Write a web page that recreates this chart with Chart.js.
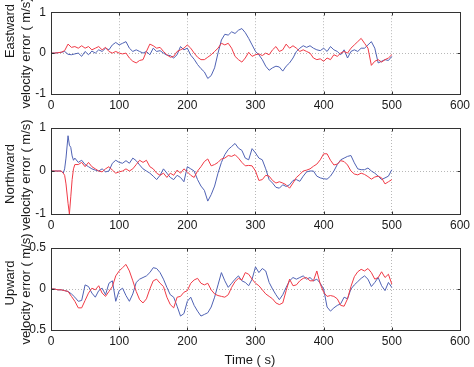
<!DOCTYPE html>
<html>
<head>
<meta charset="utf-8">
<title>velocity error</title>
<script src="https://cdn.jsdelivr.net/npm/chart.js@4.4.0/dist/chart.umd.min.js"></script>
<style>
  body { margin: 0; background: #fff; }
  #wrap { position: relative; width: 474px; height: 367px; }
  #wrap canvas { position: absolute; left: 0; top: 0; }
</style>
</head>
<body>
<div id="wrap">
  <canvas id="eastChart" width="474" height="367"></canvas>
  <canvas id="northChart" width="474" height="367"></canvas>
  <canvas id="upChart" width="474" height="367"></canvas>
</div>
<script>
// data (seconds / m/s)

const time = [
  0, 5, 10, 15, 20, 25, 30, 35, 40, 45,
  50, 55, 60, 65, 70, 75, 80, 85, 90, 95,
  100, 105, 110, 115, 120, 125, 130, 135, 140, 145,
  150, 155, 160, 165, 170, 175, 180, 185, 190, 195,
  200, 205, 210, 215, 220, 225, 230, 235, 240, 245,
  250, 255, 260, 265, 270, 275, 280, 285, 290, 295,
  300, 305, 310, 315, 320, 325, 330, 335, 340, 345,
  350, 355, 360, 365, 370, 375, 380, 385, 390, 395,
  400, 405, 410, 415, 420, 425, 430, 435, 440, 445,
  450, 455, 460, 465, 470, 475, 480, 485, 490, 495,
  500,
];

// northward panel has a few extra samples around the start-up spike
const northTime = [
  0, 5, 10, 15, 18, 20, 22, 25, 27, 29, 31, 33, 35,
  40, 45, 50, 55, 60, 65, 70, 75, 80, 85,
  90, 95, 100, 105, 110, 115, 120, 125, 130, 135,
  140, 145, 150, 155, 160, 165, 170, 175, 180, 185,
  190, 195, 200, 205, 210, 215, 220, 225, 230, 235,
  240, 245, 250, 255, 260, 265, 270, 275, 280, 285,
  290, 295, 300, 305, 310, 315, 320, 325, 330, 335,
  340, 345, 350, 355, 360, 365, 370, 375, 380, 385,
  390, 395, 400, 405, 410, 415, 420, 425, 430, 435,
  440, 445, 450, 455, 460, 465, 470, 475, 480, 485,
  490, 495, 500,
];

const eastBlue = [
  0, 0, 0.01, 0.02, 0.04, -0.03, -0.04, -0.02, 0, -0.08,
  0.04, -0.04, 0.05, 0, 0.08, 0.04, 0.12, 0.08, 0.2, 0.26,
  0.2, 0.24, 0.28, 0.12, 0.04, 0.08, 0.04, 0, 0.04, -0.04,
  0.12, 0.04, 0.06, 0, -0.05, -0.06, -0.12, -0.04, 0.16, 0.08,
  0.12, -0.05, -0.15, -0.28, -0.38, -0.46, -0.62, -0.55, -0.36, 0.0,
  0.32, 0.46, 0.44, 0.52, 0.48, 0.56, 0.6, 0.5, 0.36, 0.2,
  0.04, -0.04, -0.16, -0.32, -0.42, -0.36, -0.32, -0.34, -0.44, -0.32,
  -0.24, -0.12, 0.04, 0.12, 0.18, 0.14, 0.18, 0.12, 0.08, 0.06,
  0.12, 0.04, 0.16, 0.08, 0.04, -0.04, 0.08, -0.12, 0.04, 0.08,
  0.04, 0.12, 0.12, 0.2, 0.28, 0.12, -0.24, -0.2, -0.16, -0.18,
  -0.08,
];

const eastRed = [
  0, 0, 0.01, 0.02, 0.06, 0.22, 0.14, 0.16, 0.12, 0.18,
  0.12, 0.16, 0.08, 0.12, 0.16, 0.08, 0.14, 0.04, 0, 0.04,
  0, -0.02, 0, -0.12, -0.2, -0.24, -0.18, -0.16, 0.04, 0.22,
  0.18, 0.12, 0.14, 0.04, -0.04, -0.1, -0.08, 0.04, 0.08, 0.12,
  0.2, 0.12, 0, -0.1, -0.16, -0.16, -0.1, -0.04, 0.04, 0.12,
  0.24, 0.2, 0.24, 0.12, -0.08, -0.16, -0.22, -0.12, 0.02, -0.08,
  -0.04, -0.02, -0.06, 0, -0.04, 0.08, 0.16, 0.04, 0.08, 0.22,
  0.12, 0.18, 0.12, 0.04, 0.08, 0.04, 0, -0.12, -0.16, -0.14,
  -0.2, -0.12, -0.16, -0.04, -0.08, 0, 0.04, 0, 0.12, 0.2,
  0.28, 0.36, 0.24, 0.12, -0.3, -0.2, -0.16, -0.22, -0.16, -0.12,
  -0.04,
];

const northBlue = [
  0, 0, 0, 0, -0.05, 0.05, 0.3, 0.82, 0.6, 0.55, 0.35, 0.25, 0.3,
  0.2, 0.25, 0.15, 0.1, 0.05, 0.02, 0, 0.05, -0.02, 0,
  0.18, 0.25, 0.2, 0.18, 0.24, 0.18, 0.3, 0.24, 0.14, 0.05,
  0, -0.05, -0.12, -0.2, -0.1, 0.05, -0.05, -0.15, -0.2, -0.1,
  -0.15, -0.25, 0.1, 0.05, 0, -0.2, -0.35, -0.45, -0.7, -0.55,
  -0.35, -0.05, 0.2, 0.38, 0.5, 0.57, 0.64, 0.53, 0.48, 0.3,
  0.26, 0.52, 0.42, 0.3, 0.26, 0.05, -0.2, -0.28, -0.38, -0.4,
  -0.32, -0.36, -0.32, -0.22, -0.2, -0.24, -0.12, -0.02, 0, 0,
  -0.12, -0.16, -0.18, -0.19, -0.12, 0, 0.15, 0.26, 0.3, 0.34,
  0.36, 0.19, 0.05, 0.03, 0.03, 0.07, 0, -0.05, -0.12, -0.2,
  -0.16, -0.12, 0.03,
];

const northRed = [
  0, 0, 0, 0, -0.05, -0.1, -0.3, -0.75, -1.0, -0.6, -0.2, 0.05, 0.15,
  0.15, 0.2, 0.1, 0.2, 0.1, 0.05, 0, -0.02, 0.05, 0.1,
  0.02, -0.05, -0.02, 0, 0.05, 0, 0.05, 0.15, 0.25, 0.2,
  0.25, 0.1, 0.05, -0.05, -0.1, -0.05, -0.15, -0.05, -0.1, 0.02,
  -0.05, 0.05, -0.02, -0.1, -0.15, 0, 0.1, 0.22, 0.28, 0.12,
  0.15, 0.2, 0.28, 0.3, 0.36, 0.34, 0.38, 0.3, 0.2, 0.12,
  0.13, 0.12, 0, -0.22, -0.2, -0.1, -0.12, -0.22, -0.28, -0.25,
  -0.28, -0.32, -0.4, -0.28, -0.15, -0.08, 0, 0.02, 0.05, 0.11,
  0.16, 0.26, 0.4, 0.4, 0.25, 0.14, 0.16, 0.24, 0.22, 0.14,
  0, -0.07, -0.09, -0.05, -0.08, -0.13, -0.19, -0.14, -0.12, -0.16,
  -0.3, -0.25, -0.2,
];

const upBlue = [
  0, 0, -0.01, -0.01, -0.02, -0.03, -0.06, -0.1, -0.15, -0.14,
  0.05, 0.03, -0.05, -0.1, -0.02, 0.01, -0.07, 0.07, 0.1, -0.15,
  -0.02, 0.01, -0.08, -0.15, -0.06, 0.08, 0.12, 0.14, 0.16, 0.2,
  0.26, 0.25, 0.2, 0.12, 0.02, -0.07, -0.1, -0.21, -0.33, -0.3,
  -0.15, -0.1, -0.2, -0.27, -0.33, -0.31, -0.29, -0.22, -0.1, 0.05,
  0.2, 0.1, 0.02, 0.07, 0.12, 0.16, 0.1, 0.08, 0.04, 0.12,
  0.27, 0.2, 0.25, 0.22, 0.08, 0, -0.07, -0.13, -0.07, 0.02,
  0.1, 0.14, 0.12, 0.14, 0.16, 0.12, 0.14, 0.1, 0.12, 0.07,
  0, -0.22, -0.27, -0.23, -0.2, -0.18, -0.1, -0.12, 0, 0.05,
  0.09, 0.13, 0.16, 0.12, 0.03, 0.08, 0.14, 0.04, -0.02, 0.08,
  0.02,
];

const upRed = [
  0, 0, -0.01, -0.01, -0.02, -0.03, -0.09, -0.15, -0.23, -0.23,
  -0.14, -0.05, 0.01, -0.01, 0.04, -0.05, -0.09, -0.03, 0.03, 0.16,
  0.22, 0.26, 0.3, 0.22, 0.1, -0.03, -0.13, -0.17, -0.12, 0,
  0.1, 0.12, 0.07, 0.03, -0.1, -0.19, -0.23, -0.1, -0.09, -0.04,
  -0.02, 0.07, 0.11, 0.13, 0.07, 0.05, 0.07, -0.01, -0.06, -0.08,
  -0.09, -0.1, -0.07, 0.02, 0.09, 0.13, 0.11, 0.2, 0.18, 0.12,
  0.07, 0.04, -0.01, -0.06, -0.09, -0.12, -0.17, -0.19, -0.17, -0.02,
  0.12, 0.04, 0.05, 0.1, 0.13, 0.14, 0.1, 0.1, 0.22, 0.06,
  -0.04, -0.09, -0.08, -0.09, -0.12, -0.2, -0.21, -0.12, 0.03, 0.15,
  0.21, 0.24, 0.22, 0.25, 0.2, 0.12, 0.14, 0.21, 0.14, 0.18,
  0.06,
];

const BLUE = "#4f62b4";
const RED = "#f03a46";
const FONT = "'Liberation Sans', Arial, sans-serif";
const TEXT = "#1a1a1a";

// box round the plot with small inward ticks, matlab style
const frameTicks = {
  id: "frameTicks",
  afterDatasetsDraw(chart) {
    const { ctx, chartArea: a, scales } = chart;
    const L = Math.round(a.left) + 0.5, R = Math.round(a.right) + 0.5;
    const T = Math.round(a.top) + 0.5, B = Math.round(a.bottom) + 0.5;
    ctx.save();
    ctx.strokeStyle = "#333";
    ctx.lineWidth = 1;
    ctx.strokeRect(L, T, R - L, B - T);
    ctx.beginPath();
    scales.x.ticks.forEach((t) => {
      const px = Math.round(scales.x.getPixelForValue(t.value)) + 0.5;
      ctx.moveTo(px, T); ctx.lineTo(px, T + 3);
      ctx.moveTo(px, B); ctx.lineTo(px, B - 3);
    });
    scales.y.ticks.forEach((t) => {
      const py = Math.round(scales.y.getPixelForValue(t.value)) + 0.5;
      ctx.moveTo(L, py); ctx.lineTo(L + 3, py);
      ctx.moveTo(R, py); ctx.lineTo(R - 3, py);
    });
    ctx.stroke();
    ctx.restore();
  },
};

// two-line rotated y label, and the shared x label
const sideTitle = {
  id: "sideTitle",
  afterDraw(chart, args, opts) {
    const ctx = chart.ctx;
    ctx.save();
    ctx.font = "13px " + FONT;
    ctx.fillStyle = TEXT;
    ctx.textAlign = "center";
    ctx.textBaseline = "middle";
    opts.lines.forEach((line, i) => {
      ctx.save();
      ctx.translate(opts.x[i], opts.y[i]);
      ctx.rotate(-Math.PI / 2);
      ctx.fillText(line, 0, 0);
      ctx.restore();
    });
    if (opts.xTitle) {
      ctx.fillText(opts.xTitle, opts.xTitleX, opts.xTitleY);
    }
    ctx.restore();
  },
};

function makePanel(id, times, blue, red, yMin, yMax, yStep, top, bottom, side) {
  const tickFont = { family: FONT, size: 12 };
  return new Chart(document.getElementById(id), {
    type: "line",
    data: {
      datasets: [
        {
          data: times.map((t, i) => ({ x: t, y: red[i] })),
          borderColor: RED,
          borderWidth: 1,
          pointRadius: 0,
          tension: 0,
        },
        {
          data: times.map((t, i) => ({ x: t, y: blue[i] })),
          borderColor: BLUE,
          borderWidth: 1,
          pointRadius: 0,
          tension: 0,
        },
      ],
    },
    options: {
      responsive: false,
      animation: false,
      layout: { padding: { left: 0, right: 11, top: top, bottom: 367 - bottom - 20 } },
      plugins: {
        legend: { display: false },
        tooltip: { enabled: false },
        sideTitle: side,
      },
      scales: {
        x: {
          type: "linear",
          min: 0,
          max: 600,
          ticks: { stepSize: 100, padding: 4, font: tickFont, color: TEXT, maxRotation: 0 },
          grid: {
            drawTicks: false,
            lineWidth: 1,
            color: (c) => (c.tick.value > 0 && c.tick.value < 600 ? "#b8b8b8" : "rgba(0,0,0,0)"),
          },
          border: { display: false, dash: [1, 2] },
          afterFit: (s) => { s.height = 20; },
        },
        y: {
          min: yMin,
          max: yMax,
          ticks: { stepSize: yStep, padding: 5, font: tickFont, color: TEXT },
          grid: {
            drawTicks: false,
            lineWidth: 1,
            color: (c) => (c.tick.value === 0 ? "#b8b8b8" : "rgba(0,0,0,0)"),
          },
          border: { display: false, dash: [1, 2] },
          afterFit: (s) => { s.width = 51; },
        },
      },
    },
    plugins: [frameTicks, sideTitle],
  });
}

makePanel("eastChart", time, eastBlue, eastRed, -1, 1, 1, 10, 94, {
  lines: ["Eastward", "velocity error ( m/s)"],
  x: [10, 26],
  y: [31, 53],
});

makePanel("northChart", northTime, northBlue, northRed, -1, 1, 1, 128, 214, {
  lines: ["Northward", "velocity error ( m/s)"],
  x: [10, 26],
  y: [174, 175],
});

makePanel("upChart", time, upBlue, upRed, -0.5, 0.5, 0.5, 248, 330, {
  lines: ["Upward", "velocity error ( m/s)"],
  x: [10, 26],
  y: [283, 289],
  xTitle: "Time ( s)",
  xTitleX: 250,
  xTitleY: 360,
});
</script>
</body>
</html>
